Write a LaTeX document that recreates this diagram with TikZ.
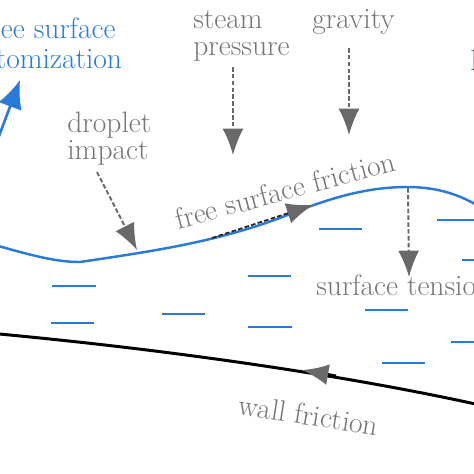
\documentclass[tikz,border=0pt]{standalone}
\usepackage{fontspec}
\usepackage{tikz}
\usetikzlibrary{calc,positioning,arrows.meta}
\definecolor{filmblue}{RGB}{42,122,218}
\definecolor{labgray}{RGB}{118,118,118}
\definecolor{arrgray}{RGB}{105,105,105}
\definecolor{crimson}{RGB}{200,30,90}

\begin{document}
\begin{tikzpicture}[x=0.02cm,y=-0.02cm,
  lab/.style={text=labgray,inner sep=0pt,font=\fontsize{16.8}{15.4}\selectfont,align=left},
  force/.style={arrgray,line width=1.1pt,dash pattern=on 2.6pt off 1.3pt,-{Latex[length=15pt,width=12pt]}},
  tip/.style={-{Latex[length=15pt,width=12pt,color=arrgray]}},
  bar/.style={filmblue,line width=1.1pt}]
  \useasboundingbox (0,0) rectangle (474,474);
  \clip (0,0) rectangle (474,474);

  % free surface and wall
  \coordinate (fs-a) at (-5,245);
  \coordinate (fs-b) at (80,262);
  \coordinate (fs-c) at (290,214);
  \coordinate (fs-d) at (407,187);
  \coordinate (fs-e) at (480,207);
  \draw[filmblue,line width=1.4pt] (fs-a) .. controls (40,258) and (60,262) .. (fs-b)
    .. controls (150,251.5) and (220,242) .. (fs-c) .. controls (330,198) and (367,187) .. (fs-d)
    .. controls (440,187) and (462,196) .. (fs-e);
  \coordinate (wall-a) at (-5,333.6);
  \coordinate (wall-b) at (480,405);
  \draw[black,line width=1.7pt] (wall-a) .. controls (150,348) and (330,372) .. (wall-b);

  % liquid
  \draw[bar] (52,286) -- (96,286);
  \draw[bar] (51,323) -- (94,323);
  \draw[bar] (162,314) -- (205,314);
  \draw[bar] (248,276) -- (291,276);
  \draw[bar] (248,327) -- (292,327);
  \draw[bar] (319,229) -- (362,229);
  \draw[bar] (437,220) -- (480,220);
  \draw[bar] (462,260) -- (505,260);
  \draw[bar] (365,310) -- (408,310);
  \draw[bar] (382,363) -- (425,363);
  \draw[bar] (451,342) -- (494,342);

  % labels
  \node[lab,anchor=north west,text=filmblue] (atom) at (-18,17) {free surface\\[2.2pt]atomization};
  \node[lab,anchor=north west] (steam) at (193,10) {steam\\pressure};
  \node[lab,anchor=base] (grav) at (353.5,28) {gravity};
  \node[lab,anchor=north west] (drop) at (67,112) {droplet\\impact};
  \node[lab,anchor=base west] (tens) at (316,295) {surface tension};
  \node[lab,rotate=15] (ffric) at (285,190) {free surface friction};
  \node[lab,rotate=-9] (wfric) at (309,415) {wall friction};
  \node[lab,anchor=base west,text=crimson] (red) at (469.5,70) {L};

  % forces
  \coordinate (drop-s) at (97,172);
  \coordinate (drop-e) at (137,250);
  \coordinate (steam-s) at (233,67);
  \coordinate (steam-e) at (233,155);
  \coordinate (grav-s) at (349,48);
  \coordinate (grav-e) at (349,135);
  \coordinate (tens-s) at (408,188);
  \coordinate (tens-e) at (409,277);
  \coordinate (ff-s) at (212,238);
  \coordinate (ff-e) at (313,205);
  \coordinate (wf-s) at (336,376);
  \coordinate (wf-e) at (302,370);
  \coordinate (atom-s) at (-10,160);
  \coordinate (atom-e) at (20,80);
  \draw[force] (drop-s) -- (drop-e);
  \draw[force] (steam-s) -- (steam-e);
  \draw[force] (grav-s) -- (grav-e);
  \draw[force] (tens-s) -- (tens-e);
  \draw[tip,black!85,line width=1pt,dash pattern=on 2.6pt off 1.3pt] (ff-s) -- (ff-e);
  \draw[tip,black,line width=1.7pt] (wf-s) -- (wf-e);
  \draw[filmblue,line width=1.5pt,-{Latex[length=16pt,width=14pt]}] (atom-s) -- (atom-e);
\end{tikzpicture}
\end{document}
